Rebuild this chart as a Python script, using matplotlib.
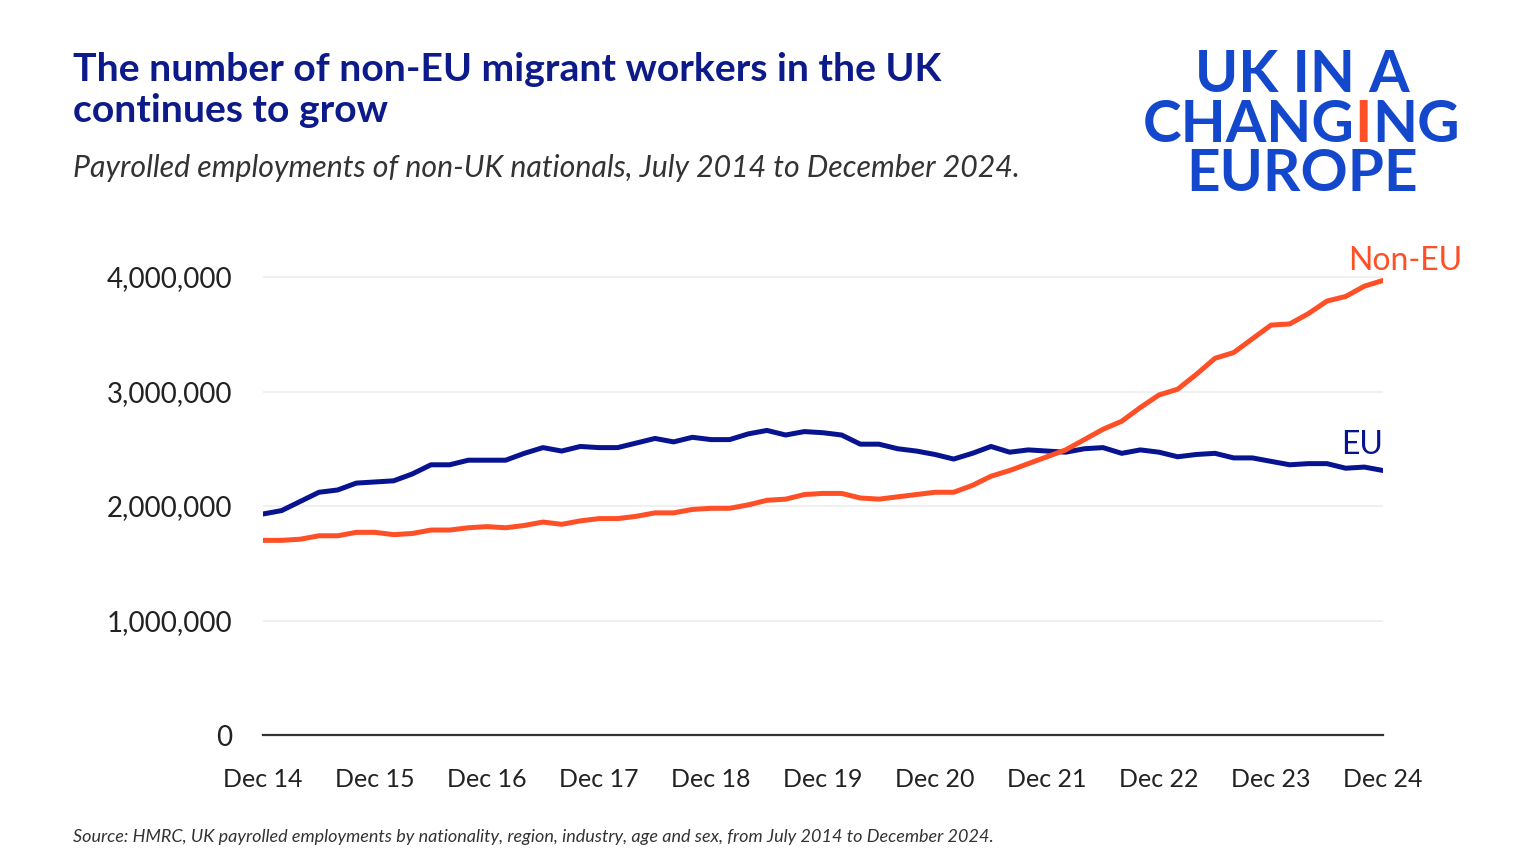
import matplotlib.pyplot as plt
from matplotlib.ticker import FuncFormatter

# Payrolled employments of non-UK nationals, millions, every 2 months from Dec 2014
months = list(range(0, 121, 2))
eu = [1.93, 1.96, 2.04, 2.12, 2.14, 2.20, 2.21, 2.22, 2.28, 2.36,
      2.36, 2.40, 2.40, 2.40, 2.46, 2.51, 2.48, 2.52, 2.51, 2.51,
      2.55, 2.59, 2.56, 2.60, 2.58, 2.58, 2.63, 2.66, 2.62, 2.65,
      2.64, 2.62, 2.54, 2.54, 2.50, 2.48, 2.45, 2.41, 2.46, 2.52,
      2.47, 2.49, 2.48, 2.47, 2.50, 2.51, 2.46, 2.49, 2.47, 2.43,
      2.45, 2.46, 2.42, 2.42, 2.39, 2.36, 2.37, 2.37, 2.33, 2.34,
      2.31]
non_eu = [1.70, 1.70, 1.71, 1.74, 1.74, 1.77, 1.77, 1.75, 1.76, 1.79,
          1.79, 1.81, 1.82, 1.81, 1.83, 1.86, 1.84, 1.87, 1.89, 1.89,
          1.91, 1.94, 1.94, 1.97, 1.98, 1.98, 2.01, 2.05, 2.06, 2.10,
          2.11, 2.11, 2.07, 2.06, 2.08, 2.10, 2.12, 2.12, 2.18, 2.26,
          2.31, 2.37, 2.43, 2.49, 2.58, 2.67, 2.74, 2.86, 2.97, 3.02,
          3.15, 3.29, 3.34, 3.46, 3.58, 3.59, 3.68, 3.79, 3.83, 3.92,
          3.97]
tick_months = list(range(0, 121, 12))
tick_labels = ["Dec 14", "Dec 15", "Dec 16", "Dec 17", "Dec 18", "Dec 19",
               "Dec 20", "Dec 21", "Dec 22", "Dec 23", "Dec 24"]
y_ticks = [0, 1e6, 2e6, 3e6, 4e6]

NAVY = "#08138f"
ORANGE = "#ff4f26"
TITLE = "#0c1a8a"
LOGO = "#1448cc"

plt.rcParams['font.family'] = ['Lato', 'DejaVu Sans']

fig = plt.figure(figsize=(15.36, 8.64), dpi=100)
ax = fig.add_axes([0.1712, 0.1493, 0.7292, 0.5566])

ax.plot(months, [v * 1e6 for v in eu], color=NAVY, lw=3.6, solid_capstyle='round', zorder=3)
ax.plot(months, [v * 1e6 for v in non_eu], color=ORANGE, lw=3.6, solid_capstyle='round', zorder=3)

ax.set_xlim(0, 120)
ax.set_ylim(0, 4.2e6)
ax.set_yticks(y_ticks)
ax.yaxis.set_major_formatter(FuncFormatter(lambda v, p: f"{int(v):,}"))
ax.set_xticks(tick_months)
ax.set_xticklabels(tick_labels)
ax.tick_params(axis='both', length=0, colors="#222222")
ax.tick_params(axis='x', labelsize=18, pad=24)
ax.tick_params(axis='y', labelsize=20, pad=22)
ax.grid(axis='y', color="#eeeeee", lw=1.2, zorder=0)
for s in ['top', 'right', 'left']:
    ax.spines[s].set_visible(False)
ax.spines['bottom'].set_color("#333333")
ax.spines['bottom'].set_linewidth(1.6)
ax.spines['bottom'].set_zorder(4)

# Series labels
ax.text(116.3, 4.14e6, "Non-EU", color=ORANGE, fontsize=23, va='center', ha='left', clip_on=False)
ax.text(120, 2.53e6, "EU", color=NAVY, fontsize=23, va='center', ha='right', clip_on=False)

# Titles
fig.text(0.0475, 0.896, "The number of non-EU migrant workers in the UK\ncontinues to grow",
         color=TITLE, fontsize=28.2, fontweight='bold', va='center', ha='left', linespacing=1.22)
fig.text(0.0475, 0.806, "Payrolled employments of non-UK nationals, July 2014 to December 2024.",
         color="#333333", fontsize=21.8, style='italic', va='center', ha='left')
fig.text(0.0475, 0.031, "Source: HMRC, UK payrolled employments by nationality, region, industry, age and sex, "
         "from July 2014 to December 2024.",
         color="#333333", fontsize=13, style='italic', va='center', ha='left')

# Logo
logo_kw = dict(fontsize=42, fontweight='bold', va='center')
fig.text(0.848, 0.913, "UK IN A", color=LOGO, ha='center', **logo_kw)
fig.text(0.848, 0.798, "EUROPE", color=LOGO, ha='center', **logo_kw)
t1 = fig.text(0.744, 0.855, "CHANG", color=LOGO, ha='left', **logo_kw)
t2 = fig.text(0, 0, "I", color=ORANGE, ha='left', **logo_kw)
t3 = fig.text(0, 0, "NG", color=LOGO, ha='left', **logo_kw)
fig.canvas.draw()
r = fig.canvas.get_renderer()
b1 = t1.get_window_extent(r)
t2.set_position((b1.x1 / fig.bbox.width, 0.855))
fig.canvas.draw()
b2 = t2.get_window_extent(r)
t3.set_position((b2.x1 / fig.bbox.width, 0.855))

fig.savefig("out.png", dpi=100, facecolor='white')
